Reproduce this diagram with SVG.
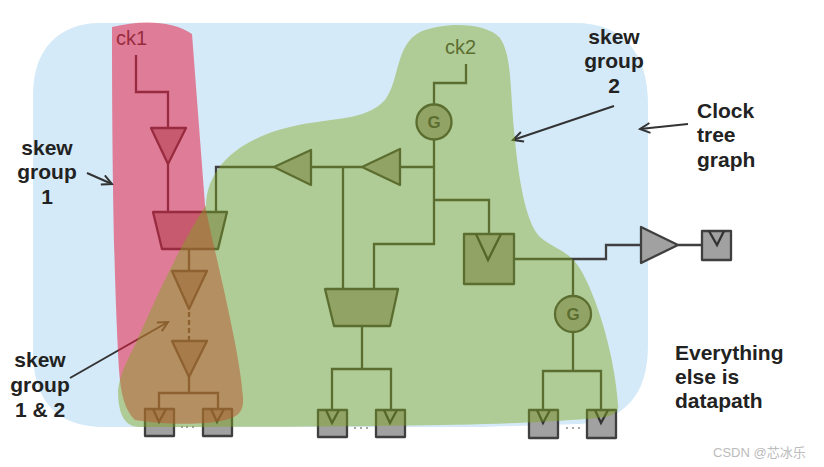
<svg xmlns="http://www.w3.org/2000/svg" width="824" height="467" viewBox="0 0 824 467">
<defs>
<marker id="open" markerWidth="14" markerHeight="14" refX="11" refY="6" orient="auto" markerUnits="userSpaceOnUse"><path d="M1 1L11 6L1 11" fill="none" stroke="#333" stroke-width="2"/></marker>
</defs>
<style>
.w{fill:none;stroke:#3f3f3f;stroke-width:2.3}
.s{fill:#a1a1a1;stroke:#3f3f3f;stroke-width:2.3;stroke-linejoin:round}
.v{fill:none;stroke:#333;stroke-width:2.3}
.a{fill:none;stroke:#333;stroke-width:2;marker-end:url(#open)}
.t{font:bold 21px "Liberation Sans",Arial,sans-serif;fill:#222}
.c{text-anchor:middle}
.k{font:20px "Liberation Sans",Arial,sans-serif;fill:#3f3f3f}
.g{font:bold 17px "Liberation Sans",Arial,sans-serif;fill:#3f3f3f;text-anchor:middle}
.d{fill:#888}
</style>
<path id="clock-tree-graph" fill="#d5eaf8" d="M100 23H575C625 23 648 55 648 105V345C648 395 625 420 580 424L480 427H105C55 427 33 400 33 350V95C33 50 58 23 100 23Z"/>
<g id="connectors">
<path class="w" d="M136 55V92H168V128M168 164V212M189 249V271"/>
<path class="w" d="M189 312V340" stroke-dasharray="5 3"/>
<path class="w" d="M189 377V393M159 409V393H218V409M216 212V167H274M311 167H362M400 167H434M343 167V289M374 289V244H434V139M466 64V83H434V105M434 200H489V234M514 259H606V245H641M678 245H702M573 259V296M573 332V371M543 409V371H601V409M362 326V369M332 409V369H391V409"/>
<path class="a" d="M87 173L112 184"/>
<path class="a" d="M614 106L513 140"/>
<path class="a" d="M688 124L640 129"/>
<path class="a" d="M70 378L168 322"/>
</g>
<g id="ck1"><text class="k" x="116" y="45">ck1</text></g>
<g id="ck2"><text class="k" x="445" y="54">ck2</text></g>
<g id="buf1"><path class="s" d="M151 128H186L168 164Z"/></g>
<g id="mux1"><path class="s" d="M153 212H227L218 249H162Z"/></g>
<g id="buf2"><path class="s" d="M172 271H207L189 309Z"/></g>
<g id="buf3"><path class="s" d="M172 341H207L189 377Z"/></g>
<g id="ff1"><rect class="s" x="145" y="409" width="29" height="27"/><path class="v" d="M153 409L159 422L166 409"/></g>
<g id="ff2"><rect class="s" x="203" y="409" width="29" height="27"/><path class="v" d="M211 409L217 422L224 409"/></g>
<g id="dots1"><circle class="d" cx="182" cy="427" r="1"/><circle class="d" cx="187" cy="427" r="1"/><circle class="d" cx="193" cy="427" r="1"/></g>
<g id="buf4"><path class="s" d="M274 167L311 150V185Z"/></g>
<g id="buf5"><path class="s" d="M362 167L400 149V185Z"/></g>
<g id="gate1"><circle class="s" cx="434" cy="122" r="17.5"/><text class="g" x="434" y="128">G</text></g>
<g id="mux2"><path class="s" d="M325 289H398L390 326H334Z"/></g>
<g id="ff3"><rect class="s" x="318" y="410" width="29" height="27"/><path class="v" d="M326 410L332 423L339 410"/></g>
<g id="ff4"><rect class="s" x="376" y="410" width="29" height="27"/><path class="v" d="M384 410L390 423L397 410"/></g>
<g id="dots2"><circle class="d" cx="355" cy="428" r="1"/><circle class="d" cx="361" cy="428" r="1"/><circle class="d" cx="367" cy="428" r="1"/></g>
<g id="ff5"><rect class="s" x="464" y="234" width="50" height="50"/><path class="v" d="M476 234L488 260L501 234"/></g>
<g id="buf6"><path class="s" d="M641 227V263L678 245Z"/></g>
<g id="ff6"><rect class="s" x="702" y="231" width="29" height="29"/><path class="v" d="M709 231L717 245L724 231"/></g>
<g id="gate2"><circle class="s" cx="573" cy="314" r="18"/><text class="g" x="573" y="320">G</text></g>
<g id="ff7"><rect class="s" x="529" y="410" width="29" height="28"/><path class="v" d="M537 410L543 423L550 410"/></g>
<g id="ff8"><rect class="s" x="587" y="410" width="29" height="28"/><path class="v" d="M595 410L601 423L608 410"/></g>
<g id="dots3"><circle class="d" cx="567" cy="428" r="1"/><circle class="d" cx="573" cy="428" r="1"/><circle class="d" cx="579" cy="428" r="1"/></g>
<path id="skew-group-1" fill="#e91b40" fill-opacity=".53" d="M112 27C140 20 172 20 192 34L205 205C215 255 240 350 243 398C244 412 238 417 225 420C200 426 160 424 135 420C125 410 121 395 119 370C115 300 112 200 112 27Z"/>
<path id="skew-group-2" fill="#81a71f" fill-opacity=".45" d="M206 205C207 170 235 140 290 127C330 117 365 122 385 100C400 80 395 45 420 32C445 22 485 22 500 38C512 55 510 90 514 130C518 175 525 222 540 237C555 250 570 250 582 272C600 305 615 360 618 405C620 418 600 418 570 420C500 426 300 427 140 427C125 427 118 415 118 390C120 375 125 365 135 345C155 300 180 245 206 205Z"/>
<g id="labels">
<text class="t c" x="47" y="155">skew</text><text class="t c" x="47" y="179">group</text><text class="t c" x="47" y="204">1</text>
<text class="t c" x="40" y="367">skew</text><text class="t c" x="40" y="392">group</text><text class="t c" x="40" y="417">1 &amp; 2</text>
<text class="t c" x="614" y="44">skew</text><text class="t c" x="614" y="68">group</text><text class="t c" x="614" y="93">2</text>
<text class="t" x="697" y="118">Clock</text><text class="t" x="697" y="142">tree</text><text class="t" x="697" y="167">graph</text>
<text class="t" x="675" y="360">Everything</text><text class="t" x="675" y="384">else is</text><text class="t" x="675" y="408">datapath</text>
<text x="713" y="457" font-size="13" fill="#bbb" font-family="'Liberation Sans','Noto Sans CJK SC',sans-serif">CSDN @芯冰乐</text>
</g>
</svg>
